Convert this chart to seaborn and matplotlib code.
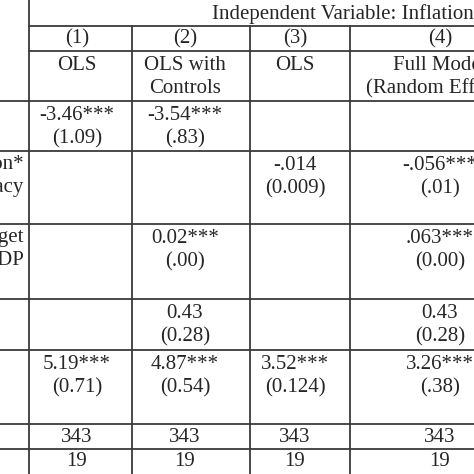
import matplotlib
matplotlib.use("Agg")
import matplotlib.pyplot as plt
import seaborn as sns

sns.set_theme(style="white")
plt.rcParams['font.family'] = ['Liberation Serif', 'DejaVu Serif']

header = "Independent Variable: Inflation"
col_nums = ["(1)", "(2)", "(3)", "(4)"]
col_models = ["OLS", "OLS with\nControls", "OLS", "Full Model\n(Random Effects)"]
row_labels = ["", "Inflation*\nDemocracy", "Budget\nGDP", "", "", "", ""]
cells = [
    ["-3.46***\n(1.09)", "-3.54***\n(.83)", "", ""],
    ["", "", "-.014\n(0.009)", "-.056***\n(.01)"],
    ["", "0.02***\n(.00)", "", ".063***\n(0.00)"],
    ["", "0.43\n(0.28)", "", "0.43\n(0.28)"],
    ["5.19***\n(0.71)", "4.87***\n(0.54)", "3.52***\n(0.124)", "3.26***\n(.38)"],
    ["343", "343", "343", "343"],
    ["19", "19", "19", "19"],
]

W = H = 474
fig = plt.figure(figsize=(4.74, 4.74), dpi=100)
ax = fig.add_axes([0, 0, 1, 1])
ax.set_xlim(0, W); ax.set_ylim(H, 0); ax.axis("off")

vx = [29, 132, 250, 350]
hy = [26, 51, 101, 151, 224, 299, 350, 424, 449]
col_cx = [77, 185, 295, 440]
lc = "#3a3a3a"; lw = 1.3
for x in vx:
    ax.plot([x, x], [0 if x == 29 else 26, H], color=lc, lw=lw)
for y in hy:
    ax.plot([0 if y >= 101 else 29, W], [y, y], color=lc, lw=lw)

fs = 15
ls = 1.28
ax.text(212, 14, header, ha="left", va="center", fontsize=fs)
for cx, t in zip(col_cx, col_nums):
    ax.text(cx, 39, t, ha="center", va="center", fontsize=fs)
for cx, t in zip(col_cx, col_models):
    ax.text(cx, 56, t, ha="center", va="top", fontsize=fs, linespacing=ls)

row_tops = [101, 151, 224, 299, 350, 424, 449]
for r, (top, vals) in enumerate(zip(row_tops, cells)):
    single = r >= 5
    for cx, t in zip(col_cx, vals):
        if not t:
            continue
        if single:
            ax.text(cx, top + 13, t, ha="center", va="center", fontsize=fs)
        else:
            ax.text(cx, top + 5, t, ha="center", va="top", fontsize=fs, linespacing=ls)
    if row_labels[r]:
        ax.text(24, top + 4, row_labels[r], ha="right", va="top", fontsize=fs, linespacing=ls)

fig.savefig("out.png", dpi=100)
